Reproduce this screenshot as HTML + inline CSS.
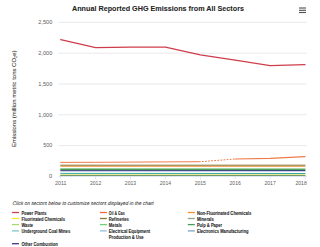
<!DOCTYPE html>
<html>
<head>
<meta charset="utf-8">
<style>
html,body{margin:0;padding:0;background:#fff;}
body{width:320px;height:247px;overflow:hidden;position:relative;}
svg{position:absolute;left:0;top:0;}
text{font-family:"Liberation Sans",sans-serif;}
</style>
</head>
<body>
<svg width="320" height="247" viewBox="0 0 320 247">
<text x="72" y="10.6" font-size="7.8" font-weight="bold" fill="#222" stroke="#222" stroke-width="0.06" textLength="172" lengthAdjust="spacingAndGlyphs">Annual Reported GHG Emissions from All Sectors</text>
<g stroke="#555" stroke-width="1.15"><line x1="299" y1="8" x2="306" y2="8"/><line x1="299" y1="10.3" x2="306" y2="10.3"/><line x1="299" y1="12.5" x2="306" y2="12.5"/></g>
<g stroke="#e6e6e6" stroke-width="0.9">
<line x1="58.5" y1="22.4" x2="307" y2="22.4"/>
<line x1="58.5" y1="53.2" x2="307" y2="53.2"/>
<line x1="58.5" y1="84.0" x2="307" y2="84.0"/>
<line x1="58.5" y1="114.8" x2="307" y2="114.8"/>
<line x1="58.5" y1="145.6" x2="307" y2="145.6"/>
</g>
<line x1="58.5" y1="176.3" x2="307" y2="176.3" stroke="#ccd6eb" stroke-width="0.8"/>
<g stroke="#ccd6eb" stroke-width="0.6">
<line x1="60.70" y1="176" x2="60.70" y2="179.5"/>
<line x1="95.60" y1="176" x2="95.60" y2="179.5"/>
<line x1="130.50" y1="176" x2="130.50" y2="179.5"/>
<line x1="165.40" y1="176" x2="165.40" y2="179.5"/>
<line x1="200.30" y1="176" x2="200.30" y2="179.5"/>
<line x1="235.20" y1="176" x2="235.20" y2="179.5"/>
<line x1="270.10" y1="176" x2="270.10" y2="179.5"/>
<line x1="305.00" y1="176" x2="305.00" y2="179.5"/>
</g>
<g font-size="6.1" fill="#606060" text-anchor="end">
<text x="52.3" y="24.2" textLength="14" lengthAdjust="spacingAndGlyphs">2,500</text>
<text x="52.3" y="55.0" textLength="14" lengthAdjust="spacingAndGlyphs">2,000</text>
<text x="52.3" y="85.7" textLength="14" lengthAdjust="spacingAndGlyphs">1,500</text>
<text x="52.3" y="116.5" textLength="14" lengthAdjust="spacingAndGlyphs">1,000</text>
<text x="52.3" y="147.3" textLength="9.0" lengthAdjust="spacingAndGlyphs">500</text>
<text x="52.3" y="178.0" textLength="3.2" lengthAdjust="spacingAndGlyphs">0</text>
</g>
<g font-size="6.1" fill="#606060" text-anchor="middle">
<text x="60.70" y="185" textLength="11.3" lengthAdjust="spacingAndGlyphs">2011</text>
<text x="95.60" y="185" textLength="11.3" lengthAdjust="spacingAndGlyphs">2012</text>
<text x="130.50" y="185" textLength="11.3" lengthAdjust="spacingAndGlyphs">2013</text>
<text x="165.40" y="185" textLength="11.3" lengthAdjust="spacingAndGlyphs">2014</text>
<text x="200.30" y="185" textLength="11.3" lengthAdjust="spacingAndGlyphs">2015</text>
<text x="235.20" y="185" textLength="11.3" lengthAdjust="spacingAndGlyphs">2016</text>
<text x="270.10" y="185" textLength="11.3" lengthAdjust="spacingAndGlyphs">2017</text>
<text x="301.10" y="185" textLength="11.3" lengthAdjust="spacingAndGlyphs">2018</text>
</g>
<text transform="translate(16.4 98.8) rotate(-90)" font-size="6.1" fill="#333" stroke="#333" stroke-width="0.07" text-anchor="middle" textLength="96.5" lengthAdjust="spacingAndGlyphs">Emissions (million metric tons CO<tspan font-size="3.8" dy="1">2</tspan><tspan dy="-1">e)</tspan></text>
<polyline fill="none" stroke="#4a7a4a" stroke-width="0.9" stroke-linejoin="round" stroke-linecap="round"  points="60.70,175.45 305.00,175.45"/>
<polyline fill="none" stroke="#e6e680" stroke-width="0.9" stroke-linejoin="round" stroke-linecap="round"  points="60.70,174.65 305.00,174.65"/>
<polyline fill="none" stroke="#20a090" stroke-width="0.9" stroke-linejoin="round" stroke-linecap="round"  points="60.70,173.40 305.00,173.50"/>
<polyline fill="none" stroke="#c0c4e8" stroke-width="0.9" stroke-linejoin="round" stroke-linecap="round"  points="60.70,171.40 305.00,171.40"/>
<polyline fill="none" stroke="#2e2e70" stroke-width="0.9" stroke-linejoin="round" stroke-linecap="round"  points="60.70,170.40 305.00,170.50"/>
<polyline fill="none" stroke="#2a7a3a" stroke-width="0.9" stroke-linejoin="round" stroke-linecap="round"  points="60.70,169.60 305.00,169.70"/>
<polyline fill="none" stroke="#40a848" stroke-width="0.9" stroke-linejoin="round" stroke-linecap="round"  points="60.70,168.90 305.00,169.00"/>
<polyline fill="none" stroke="#f08a30" stroke-width="0.9" stroke-linejoin="round" stroke-linecap="round"  points="60.70,166.30 305.00,166.30"/>
<polyline fill="none" stroke="#7a6418" stroke-width="0.9" stroke-linejoin="round" stroke-linecap="round"  points="60.70,165.20 305.00,165.20"/>
<polyline fill="none" stroke="#f07a4a" stroke-width="1.0" stroke-linejoin="round" stroke-linecap="round"  points="60.70,162.40 95.60,162.30 130.50,162.10 165.40,161.90 200.30,161.70"/>
<polyline fill="none" stroke="#f07a4a" stroke-width="1.0" stroke-linejoin="round" stroke-linecap="round" stroke-dasharray="1,2.1" stroke-dashoffset="-2" points="200.30,161.70 235.20,159.00"/>
<polyline fill="none" stroke="#f07a4a" stroke-width="1.2" stroke-linejoin="round" stroke-linecap="round"  points="235.20,159.00 270.10,158.30 305.00,156.60"/>
<polyline fill="none" stroke="#cf3d4c" stroke-width="1.25" stroke-linejoin="round" stroke-linecap="round"  points="60.70,39.60 95.60,47.70 130.50,47.10 165.40,47.10 200.30,54.90 235.20,60.10 270.10,65.60 305.00,64.70"/>
<text transform="translate(12.6 205) skewX(-3)" x="0" y="0" font-size="5.2" font-style="italic" fill="#2a2a2a" stroke="#2a2a2a" stroke-width="0.05" textLength="141" lengthAdjust="spacingAndGlyphs">Click on sectors below to customize sectors displayed in the chart</text>
<g stroke-width="1.3">
<line x1="12" y1="212.5" x2="19" y2="212.5" stroke="#d0404f"/>
<line x1="12" y1="218.5" x2="19" y2="218.5" stroke="#f5e62a"/>
<line x1="12" y1="224.6" x2="19" y2="224.6" stroke="#a8d878"/>
<line x1="12" y1="230.9" x2="19" y2="230.9" stroke="#7cc8c8"/>
<line x1="12" y1="243.7" x2="19" y2="243.7" stroke="#3a3a8c"/>
<line x1="99.9" y1="212.5" x2="106.9" y2="212.5" stroke="#f06a35"/>
<line x1="99.9" y1="218.5" x2="106.9" y2="218.5" stroke="#857a3c"/>
<line x1="99.9" y1="224.6" x2="106.9" y2="224.6" stroke="#6ed07a"/>
<line x1="99.9" y1="230.9" x2="106.9" y2="230.9" stroke="#98c0dc"/>
<line x1="187.8" y1="212.5" x2="194.8" y2="212.5" stroke="#f5912a"/>
<line x1="187.8" y1="218.5" x2="194.8" y2="218.5" stroke="#8aab8a"/>
<line x1="187.8" y1="224.6" x2="194.8" y2="224.6" stroke="#4a9a5e"/>
<line x1="187.8" y1="230.9" x2="194.8" y2="230.9" stroke="#7aa4cc"/>
</g>
<g font-size="4.5" font-weight="bold" fill="#1a1a1a" stroke="#1a1a1a" stroke-width="0.06">
<text x="21.4" y="214.6" textLength="25.1" lengthAdjust="spacingAndGlyphs">Power Plants</text>
<text x="21.4" y="220.6" textLength="43.5" lengthAdjust="spacingAndGlyphs">Fluorinated Chemicals</text>
<text x="21.4" y="226.7" textLength="11.6" lengthAdjust="spacingAndGlyphs">Waste</text>
<text x="21.4" y="233.0" textLength="48.8" lengthAdjust="spacingAndGlyphs">Underground Coal Mines</text>
<text x="21.4" y="245.8" textLength="36.4" lengthAdjust="spacingAndGlyphs">Other Combustion</text>
<text x="108.8" y="214.6" textLength="16" lengthAdjust="spacingAndGlyphs">Oil &amp; Gas</text>
<text x="108.8" y="220.6" textLength="20" lengthAdjust="spacingAndGlyphs">Refineries</text>
<text x="108.8" y="226.7" textLength="13.1" lengthAdjust="spacingAndGlyphs">Metals</text>
<text x="108.8" y="233.0" textLength="41.3" lengthAdjust="spacingAndGlyphs">Electrical Equipment</text>
<text x="196.9" y="214.6" textLength="54.4" lengthAdjust="spacingAndGlyphs">Non-Fluorinated Chemicals</text>
<text x="196.9" y="220.6" textLength="16.9" lengthAdjust="spacingAndGlyphs">Minerals</text>
<text x="196.9" y="226.7" textLength="25.3" lengthAdjust="spacingAndGlyphs">Pulp &amp; Paper</text>
<text x="196.9" y="233.0" textLength="51.6" lengthAdjust="spacingAndGlyphs">Electronics Manufacturing</text>
<text x="108.8" y="239.3" textLength="34.8" lengthAdjust="spacingAndGlyphs">Production &amp; Use</text>
</g>
</svg>
</body>
</html>
